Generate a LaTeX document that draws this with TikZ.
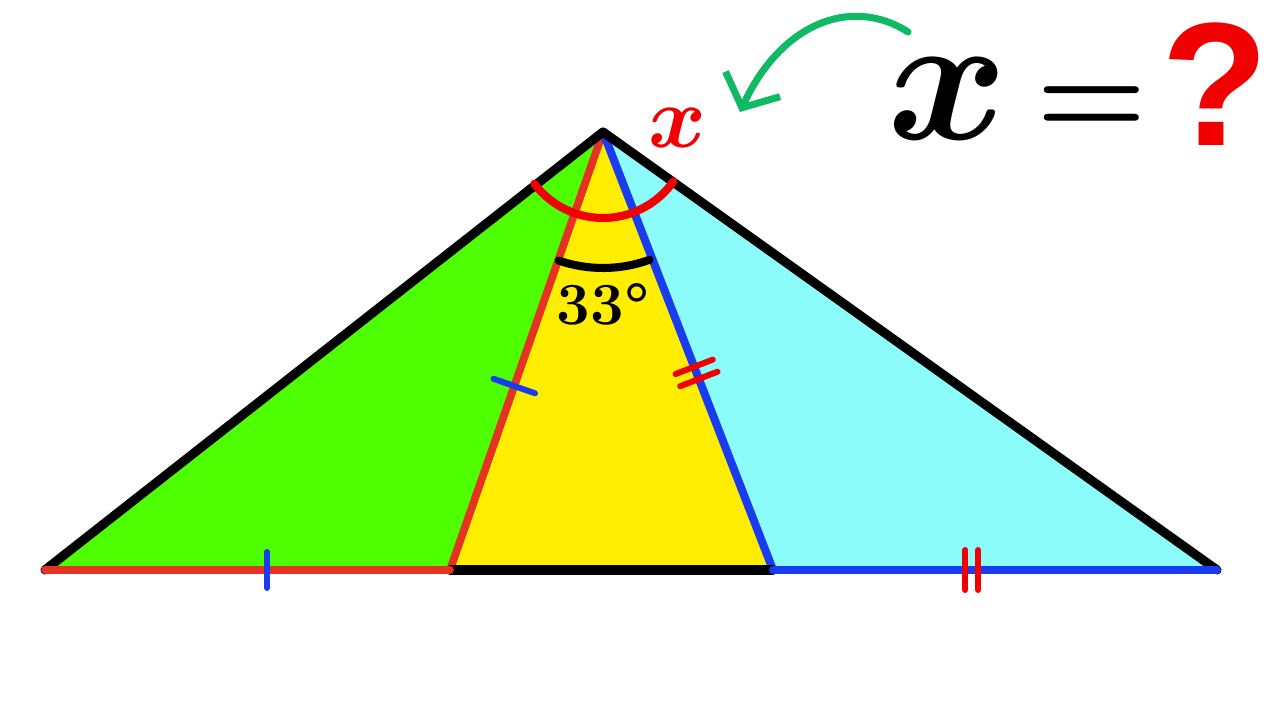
\RequirePackage{fix-cm}
\documentclass[tikz,border=0pt]{standalone}
\usepackage{amsmath}
\usepackage{fontspec}
\newfontfamily\qfont{Liberation Sans}
\usetikzlibrary{arrows.meta,calc,positioning}

\definecolor{fillgreen}{RGB}{77,255,0}
\definecolor{fillyellow}{RGB}{255,238,0}
\definecolor{fillcyan}{RGB}{140,252,250}
\definecolor{edgered}{RGB}{228,50,35}
\definecolor{edgeblue}{RGB}{25,60,240}
\definecolor{markred}{RGB}{240,0,0}
\definecolor{arrowgreen}{RGB}{16,185,100}

\begin{document}
\begin{tikzpicture}[
    line join = round, % rounded corners of the outline
    line cap = round, % rounded line ends
    ]

    \tikzset{
    blackside/.style = {draw = black, line width = 2.6pt},
    redside/.style = {draw = edgered, line width = 2.2pt},
    blueside/.style = {draw = edgeblue, line width = 2.3pt},
    tickblue/.style = {draw = edgeblue, line width = 1.7pt},
    tickred/.style = {draw = markred, line width = 1.7pt},
    anglearc/.style = {line width = 2.3pt},
    }
    \useasboundingbox (0,0) rectangle (12.8,7.2);

    % vertices of the triangle
    \coordinate (A) at (6.03,5.88);
    \coordinate (B) at (0.45,1.50);
    \coordinate (C) at (12.17,1.50);
    \coordinate (D) at (4.50,1.50);
    \coordinate (E) at (7.73,1.50);

    % coloured parts
    \fill[fillgreen] (B) -- (A) -- (D) -- cycle;
    \fill[fillyellow] (D) -- (A) -- (E) -- cycle;
    \fill[fillcyan] (E) -- (A) -- (C) -- cycle;

    % sides
    \draw[redside] (D) -- (A);
    \draw[blueside] (E) -- (A);
    \draw[blackside] (B) -- (A) -- (C);
    \draw[blackside] (D) -- (E);
    \draw[redside] (B) -- (D);
    \draw[blueside] (E) -- (C);

    % equal marks
    \coordinate (tBD) at ($(B)!0.548!(D)$);
    \coordinate (tAD) at ($(A)!0.58!(D)$);
    \coordinate (tAE) at ($(A)!0.55!(E)$);
    \coordinate (tEC) at ($(E)!0.448!(C)$);
    \coordinate (tAE1) at ($(tAE)!0.065cm!(A)$);
    \coordinate (tAE2) at ($(tAE)!0.065cm!(E)$);
    \coordinate (tEC1) at ($(tEC)!0.065cm!(E)$);
    \coordinate (tEC2) at ($(tEC)!0.065cm!(C)$);
    \draw[tickblue] ($(tBD)!0.18cm!90:(D)$) -- ($(tBD)!0.18cm!-90:(D)$);
    \draw[tickblue] ($(tAD)!0.22cm!90:(D)$) -- ($(tAD)!0.22cm!-90:(D)$);
    \draw[tickred] ($(tAE1)!0.2cm!90:(E)$) -- ($(tAE1)!0.2cm!-90:(E)$);
    \draw[tickred] ($(tAE2)!0.2cm!90:(E)$) -- ($(tAE2)!0.2cm!-90:(E)$);
    \draw[tickred] ($(tEC1)!0.2cm!90:(C)$) -- ($(tEC1)!0.2cm!-90:(C)$);
    \draw[tickred] ($(tEC2)!0.2cm!90:(C)$) -- ($(tEC2)!0.2cm!-90:(C)$);

    % angles
    \draw[anglearc, markred] ($(A)+(217:0.86)$) arc[start angle=217, end angle=325, radius=0.86];
    \draw[anglearc, black] ($(A)+(251:1.36)$) arc[start angle=251, end angle=290, radius=1.36];
    \node[anchor=base, font=\fontsize{17}{19}\selectfont\bfseries] (deg) at (6.03,3.95) {33°};
    \node[anchor=base, text=markred, font=\fontsize{25}{28}\selectfont] (xred) at (6.77,5.72) {$\boldsymbol{x}$};

    % question
    \node[anchor=base, font=\fontsize{52}{56}\selectfont] (xbig) at (9.48,5.80) {$\boldsymbol{x}$};
    \node[anchor=base, font=\fontsize{36}{40}\selectfont] (eq) at (10.92,5.84) {$\boldsymbol{=}$};
    \node[anchor=base, text=markred, font=\fontsize{50}{54}\selectfont\qfont\bfseries] (qmark) at (12.15,5.74) {?};

    \coordinate (arrowstart) at (9.08,6.88);
    \coordinate (arrowtip) at (7.40,6.08);
    \draw[arrowgreen, line width = 2pt, -{Straight Barb[length=2.6mm, width=6mm]}]
    (arrowstart) .. controls (8.5,7.25) and (7.8,6.95) .. (arrowtip);
\end{tikzpicture}
\end{document}
